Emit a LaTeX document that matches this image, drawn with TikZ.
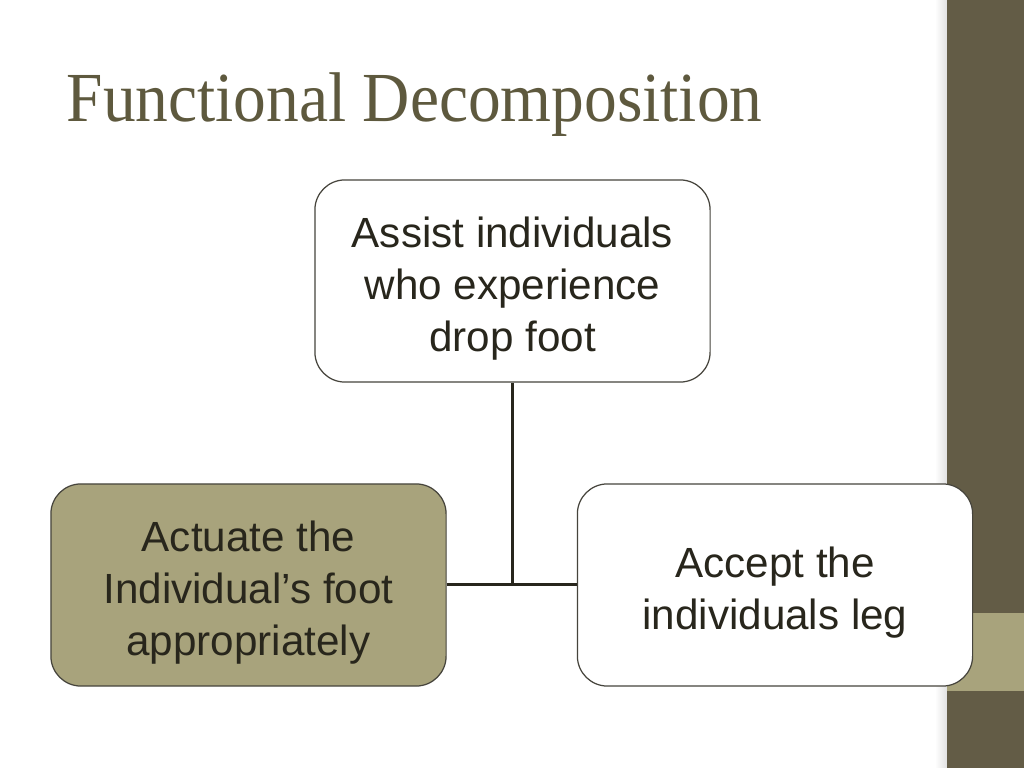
\documentclass[tikz,border=0pt]{standalone}
\usepackage{fontspec}
\setmainfont{Liberation Serif}
\newfontfamily\titlefont[FakeStretch=0.93]{Liberation Serif}
\newfontfamily\boxfont{Liberation Sans}
\usepackage{xcolor}
\usepackage{tikz}
\usetikzlibrary{positioning, calc, backgrounds}
\definecolor{oliveDark}{RGB}{99, 92, 70}
\definecolor{oliveLight}{RGB}{168, 163, 124}
\definecolor{titleOlive}{RGB}{94, 89, 62}
\definecolor{inkDark}{RGB}{40, 38, 28}
\definecolor{edgeGray}{RGB}{70, 68, 60}
\newcommand{\boxstrut}{\rule{0pt}{12.8pt}}
\pgfdeclareradialshading{slideglow}{\pgfpoint{0bp}{0bp}}{%
  color(0bp)=(white); color(28bp)=(white); color(50bp)=(black!15)}

\begin{document}
\begin{tikzpicture}[
    x=0.01cm, y=-0.01cm,
    funcbox/.style={
        rectangle,
        rounded corners=0.3cm,
        minimum width=3.95cm,
        minimum height=2.02cm,
        align=center,
        font=\boxfont\fontsize{12}{14.8}\selectfont,
        text=inkDark,
        fill=white,
        draw=edgeGray,
        line width=0.35pt
    },
    link/.style={
        draw=inkDark,
        line width=0.85pt
    }
]

% Slide background
\useasboundingbox (0,0) rectangle (1024,768);
\shade[shading=slideglow] (-150,-250) rectangle (1250,1000);
\shade[left color=white, right color=black!12] (935,0) rectangle (947,768);
\fill[oliveDark] (947,0) rectangle (1024,768);
\fill[oliveLight] (947,613) rectangle (1024,691);

% Title
\node[anchor=base west, text=titleOlive, font=\titlefont\fontsize{20}{24}\selectfont, inner sep=0pt]
    (title) at (66,122) {Functional Decomposition};

% Boxes
\node[funcbox] (goal) at (512.5,281) {\boxstrut Assist individuals\\who experience\\drop foot};
\node[funcbox, fill=oliveLight] (actuate) at (248.5,585) {\boxstrut Actuate the\\Individual’s foot\\appropriately};
\node[funcbox] (accept) at (775,585) {\boxstrut Accept the\\individuals leg};

% Connectors
\coordinate (junction) at (goal.south |- actuate.east);
\draw[link] (goal.south) -- (junction);
\draw[link] (actuate.east) -- (accept.west);

\end{tikzpicture}
\end{document}
